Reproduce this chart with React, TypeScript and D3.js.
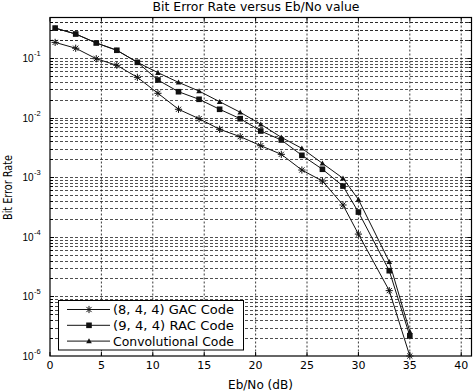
import React from "react";
import * as d3 from "d3";

const W = 474;
const H = 391;

const ebno = [0.5, 2.5, 4.5, 6.5, 8.5, 10.5, 12.5, 14.5, 16.5, 18.5, 20.5, 22.5, 24.5, 26.5, 28.5, 30, 33, 35];
const gac = [0.183, 0.146, 0.0973, 0.0755, 0.0474, 0.0256, 0.0138, 0.0096, 0.00637, 0.00479, 0.00338, 0.00242, 0.00132, 0.000863, 0.000342, 0.000111, 1.25e-5, 1e-6];
const rac = [0.318, 0.253, 0.179, 0.135, 0.0847, 0.0428, 0.0272, 0.0203, 0.0138, 0.0096, 0.00596, 0.00421, 0.00233, 0.00136, 0.00071, 0.00026, 2.7e-5, 2.17e-6];
const conv = [0.318, 0.253, 0.179, 0.135, 0.0847, 0.0568, 0.0391, 0.0279, 0.0185, 0.0123, 0.00773, 0.00467, 0.00305, 0.00171, 0.00096, 0.000423, 3.82e-5, 2.56e-6];

const xTicks = [0, 5, 10, 15, 20, 25, 30, 35, 40];
const yExps = [-1, -2, -3, -4, -5, -6];
const seriesNames = ["(8, 4, 4) GAC Code", "(9, 4, 4) RAC Code", "Convolutional Code"];
const title = "Bit Error Rate versus Eb/No value";
const xLabel = "Eb/No (dB)";
const yLabel = "Bit Error Rate";

const L = 50, R = 471.5, T = 17.5, B = 356;
const x = d3.scaleLinear().domain([0, 41]).range([L, R]);
const y = d3.scaleLog().domain([1e-6, Math.pow(10, -0.32)]).range([B, T]);

const FONT = "'DejaVu Sans', 'Liberation Sans', Arial, sans-serif";
const COL = "#111";

function Star({ cx, cy }: { cx: number; cy: number }) {
  const r = 3.6;
  const d = r * 0.72;
  return (
    <g stroke={COL} strokeWidth={1}>
      <line x1={cx - r} y1={cy} x2={cx + r} y2={cy} />
      <line x1={cx} y1={cy - r} x2={cx} y2={cy + r} />
      <line x1={cx - d} y1={cy - d} x2={cx + d} y2={cy + d} />
      <line x1={cx - d} y1={cy + d} x2={cx + d} y2={cy - d} />
    </g>
  );
}
function Square({ cx, cy }: { cx: number; cy: number }) {
  return <rect x={cx - 2.8} y={cy - 2.8} width={5.6} height={5.6} fill={COL} />;
}
function Tri({ cx, cy }: { cx: number; cy: number }) {
  const s = 2.8;
  return <path d={`M${cx},${cy - s}L${cx + s},${cy + s * 0.8}L${cx - s},${cy + s * 0.8}Z`} fill={COL} />;
}

const markers = [Star, Square, Tri];
const seriesData = [gac, rac, conv];

export default function App() {
  const line = d3
    .line<[number, number]>()
    .x((d) => x(d[0]))
    .y((d) => y(d[1]));

  const hGrid: { v: number; major: boolean }[] = [];
  for (let e = -6; e <= -1; e++) {
    for (let k = 1; k <= 9; k++) {
      const v = k * Math.pow(10, e);
      if (v <= 1e-6 * 1.0001) continue;
      if (v > y.domain()[1]) continue;
      hGrid.push({ v, major: k === 1 });
    }
  }
  const ext = [0.2, 0.3, 0.4];
  ext.forEach((v) => { if (v < y.domain()[1]) hGrid.push({ v, major: false }); });

  return (
    <svg width={W} height={H} style={{ position: "absolute", left: 0, top: 0, background: "#fff" }} fontFamily={FONT}>
      <rect x={0} y={0} width={W} height={H} fill="#fff" />
      {hGrid.map((g, i) => (
        <line key={"h" + i} x1={L} x2={R} y1={Math.round(y(g.v)) + 0.5} y2={Math.round(y(g.v)) + 0.5}
          stroke="#222" strokeWidth={0.8} strokeDasharray="3,2" />
      ))}
      {xTicks.filter((t) => t > 0).map((t) => (
        <line key={"v" + t} x1={x(t)} x2={x(t)} y1={T} y2={B} stroke="#222" strokeWidth={0.9} strokeDasharray="2,2" />
      ))}
      {xTicks.map((t) => (
        <g key={"xt" + t} stroke="#000" strokeWidth={1}>
          <line x1={x(t)} x2={x(t)} y1={B} y2={B - 4} />
          <line x1={x(t)} x2={x(t)} y1={T} y2={T + 4} />
        </g>
      ))}
      {hGrid.map((g, i) => (
        <g key={"yt" + i} stroke="#000" strokeWidth={1}>
          <line x1={L} x2={L + (g.major ? 4 : 3)} y1={Math.round(y(g.v)) + 0.5} y2={Math.round(y(g.v)) + 0.5} />
          <line x1={R} x2={R - (g.major ? 4 : 3)} y1={Math.round(y(g.v)) + 0.5} y2={Math.round(y(g.v)) + 0.5} />
        </g>
      ))}
      <rect x={L} y={T} width={R - L} height={B - T} fill="none" stroke="#000" strokeWidth={1.2} />

      {seriesData.map((s, si) => {
        const pts = ebno.map((e, i) => [e, s[i]] as [number, number]);
        const M = markers[si];
        return (
          <g key={"s" + si}>
            <path d={line(pts) || ""} fill="none" stroke={COL} strokeWidth={1} />
            {pts.map((p, i) => <M key={i} cx={x(p[0])} cy={y(p[1])} />)}
          </g>
        );
      })}

      {xTicks.map((t) => (
        <text key={"xl" + t} x={x(t)} y={369} textAnchor="middle" fontSize={11} fill="#000">{t}</text>
      ))}
      {yExps.map((e) => (
        <g key={"yl" + e}>
          <text x={33.5} y={y(Math.pow(10, e)) + 4} textAnchor="end" fontSize={10} fontFamily="'Liberation Sans', Arial, sans-serif" fill="#000">10</text>
          <text x={34} y={y(Math.pow(10, e)) - 2} fontSize={7.5} fontFamily="'Liberation Sans', Arial, sans-serif" fill="#000">{e}</text>
        </g>
      ))}

      <rect x={58.5} y={300.5} width={185} height={49.5} fill="#fff" stroke="#000" strokeWidth={1} />
      {seriesNames.map((n, i) => {
        const ry = 309.5 + i * 15.8;
        const M = markers[i];
        return (
          <g key={"lg" + i}>
            <line x1={67} x2={110} y1={ry} y2={ry} stroke={COL} strokeWidth={1} />
            <M cx={89} cy={ry} />
            <text x={113} y={ry + 4.5} fontSize={12.5} fill="#000" textLength={121} lengthAdjust="spacingAndGlyphs">{n}</text>
          </g>
        );
      })}

      <text x={256} y={11} textAnchor="middle" fontSize={11.5} fill="#000" textLength={207} lengthAdjust="spacingAndGlyphs">{title}</text>
      <text x={260.5} y={389} textAnchor="middle" fontSize={11.5} fill="#000" textLength={65} lengthAdjust="spacingAndGlyphs">{xLabel}</text>
      <text transform={`translate(12,187.5) rotate(-90)`} textAnchor="middle" fontSize={11.5} fill="#000" textLength={65} lengthAdjust="spacingAndGlyphs">{yLabel}</text>
    </svg>
  );
}
